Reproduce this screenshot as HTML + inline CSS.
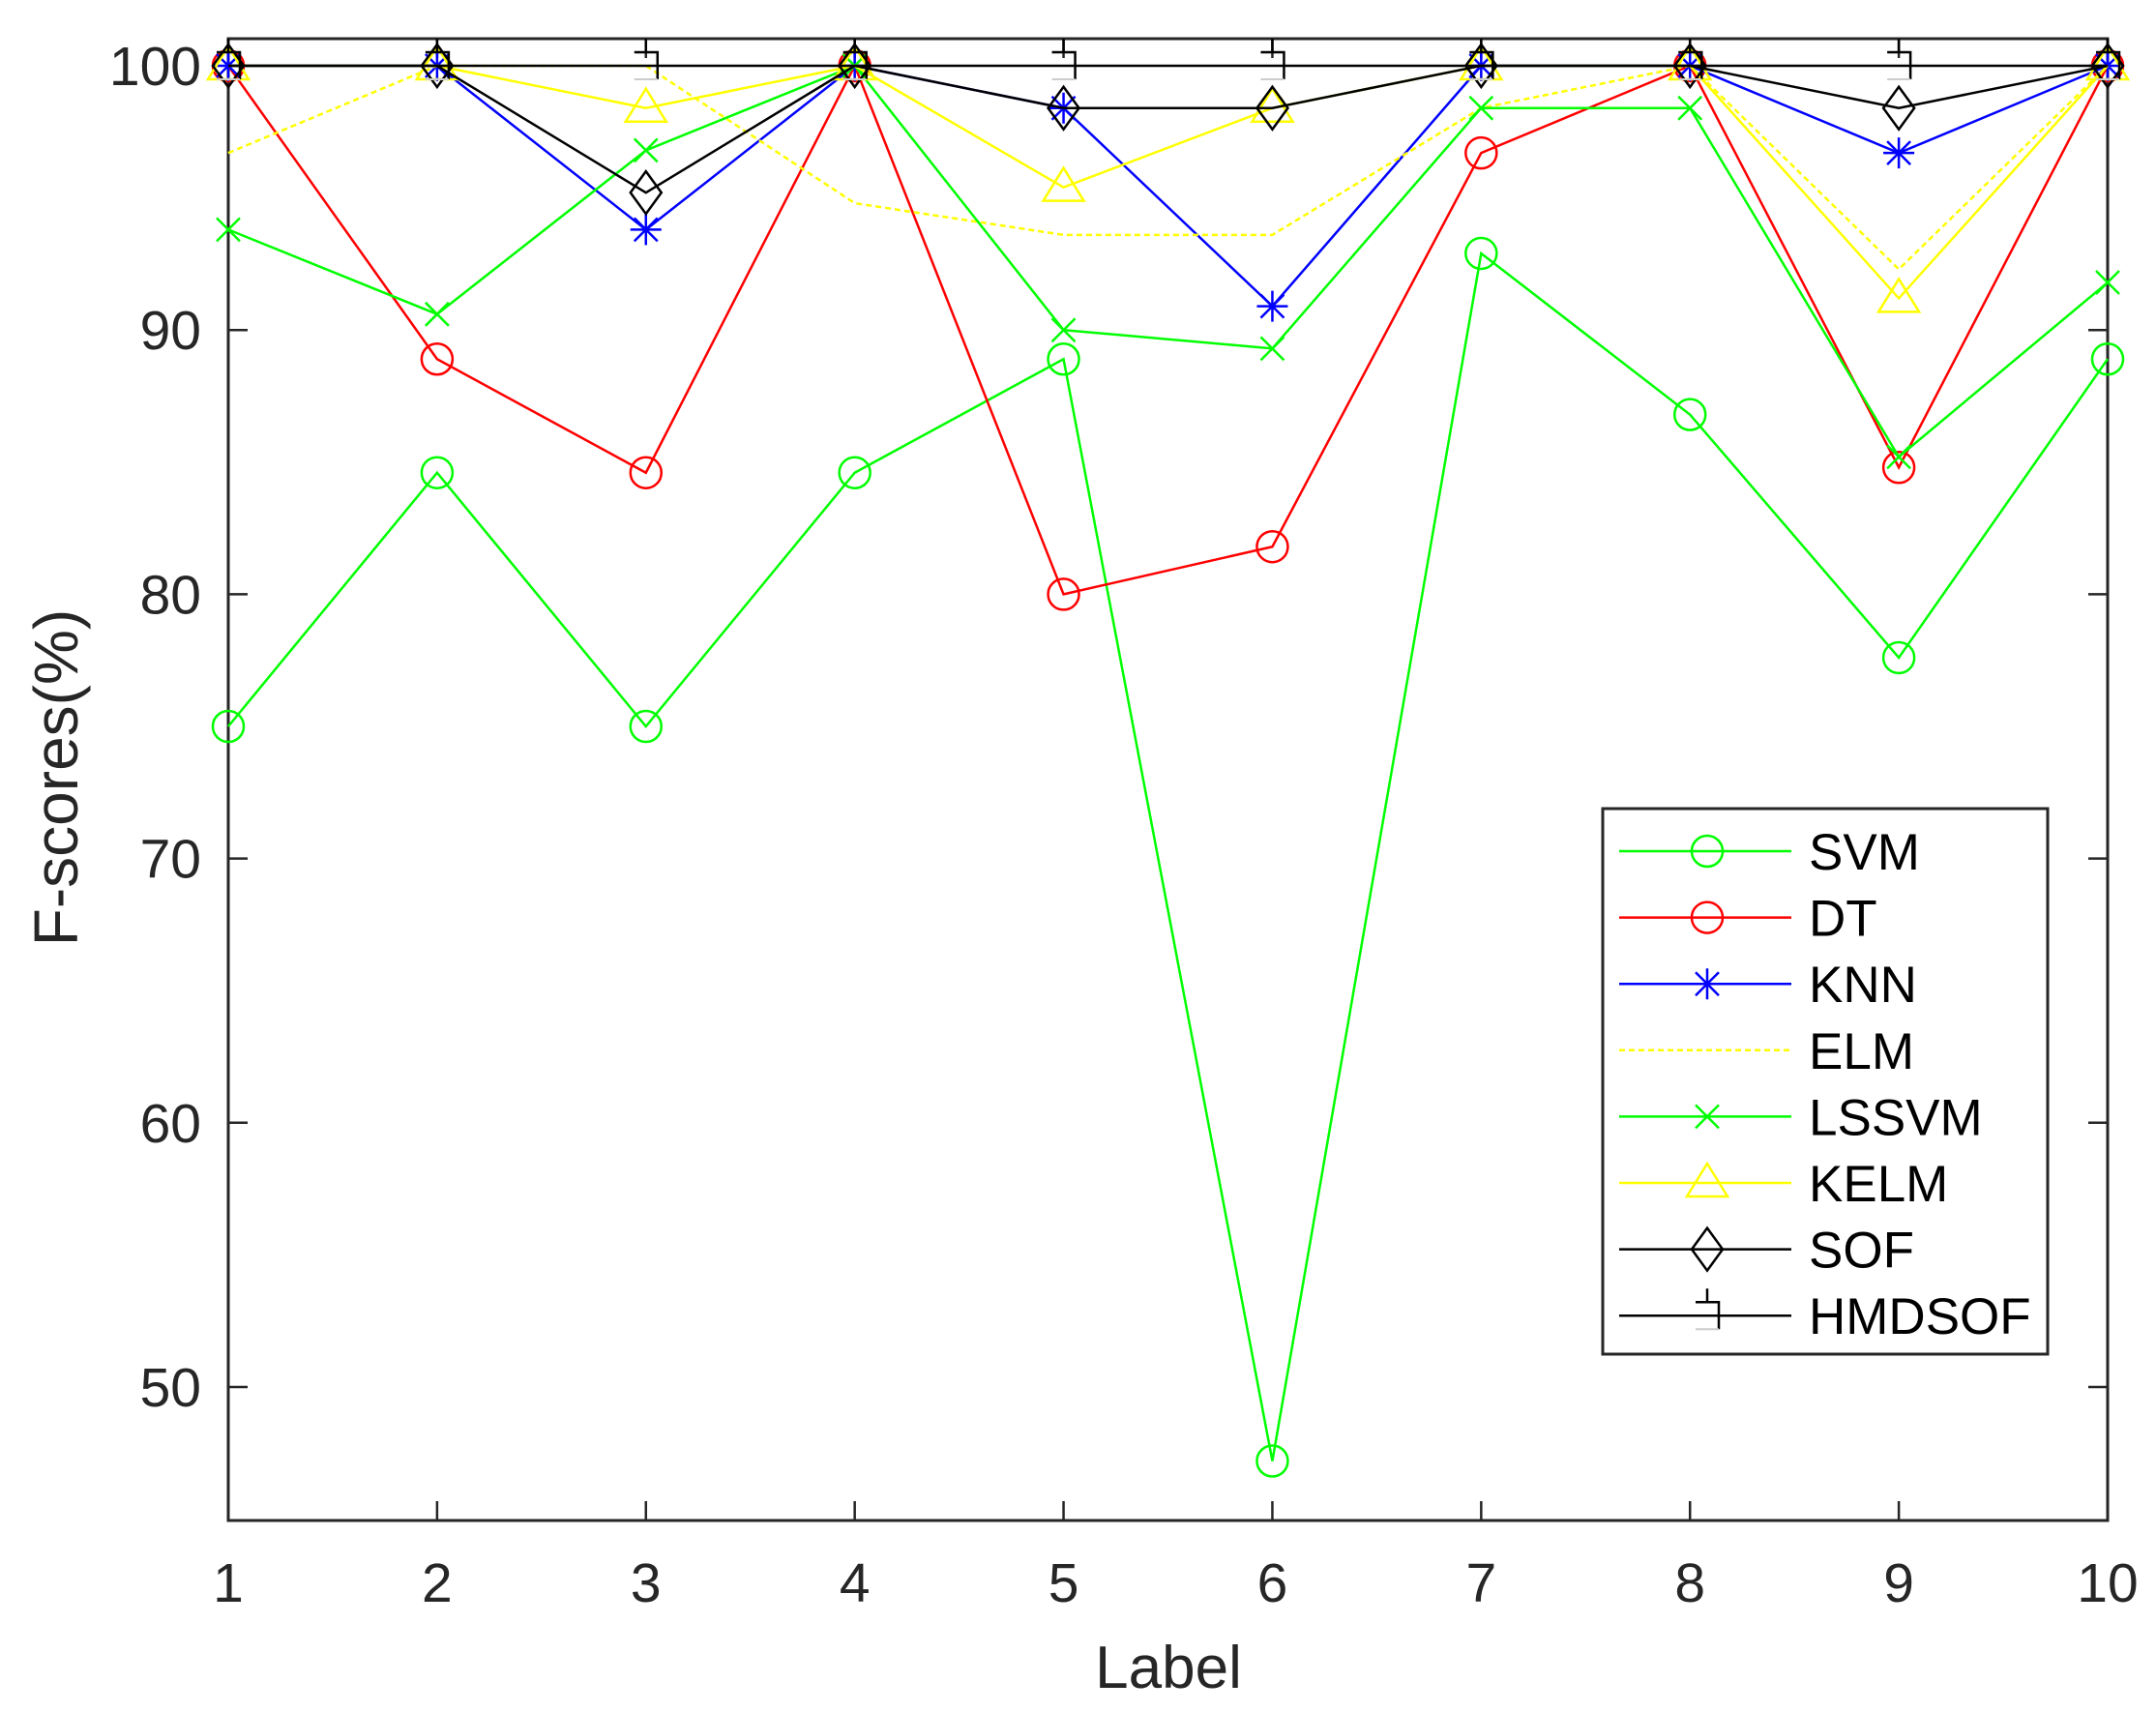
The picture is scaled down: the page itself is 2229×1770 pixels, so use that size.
<!DOCTYPE html>
<html><head><meta charset="utf-8"><style>html,body{margin:0;padding:0;background:#fff}svg{display:block}</style></head>
<body>
<svg id="s" xmlns="http://www.w3.org/2000/svg" width="2229" height="1770" viewBox="0 0 2229 1770" font-family="Liberation Sans, Arial, sans-serif"></svg>
<script>
const s=document.getElementById('s');
const X0=236,X1=2179,Y100=68,U=27.32,TOP=40,BOT=1572;
const px=i=>X0+(i-1)*(X1-X0)/9, py=v=>Y100+(100-v)*U;
let h='';
h+=`<rect x="${X0}" y="${TOP}" width="${X1-X0}" height="${BOT-TOP}" fill="none" stroke="#262626" stroke-width="3"/>`;
for(let v=50;v<=100;v+=10){const y=py(v);h+=`<line x1="${X0}" y1="${y}" x2="${X0+20}" y2="${y}" stroke="#262626" stroke-width="2.5"/><line x1="${X1}" y1="${y}" x2="${X1-20}" y2="${y}" stroke="#262626" stroke-width="2.5"/><text x="208" y="${y+20}" font-size="57" text-anchor="end" fill="#262626">${v}</text>`;}
for(let i=1;i<=10;i++){const x=px(i);h+=`<line x1="${x}" y1="${BOT}" x2="${x}" y2="${BOT-20}" stroke="#262626" stroke-width="2.5"/><line x1="${x}" y1="${TOP}" x2="${x}" y2="${TOP+20}" stroke="#262626" stroke-width="2.5"/><text x="${x}" y="1656" font-size="57" text-anchor="middle" fill="#262626">${i}</text>`;}
h+=`<text x="1208" y="1745" font-size="62" text-anchor="middle" fill="#262626">Label</text>`;
h+=`<text transform="translate(80,804) rotate(-90)" font-size="64" text-anchor="middle" fill="#262626">F-scores(%)</text>`;
const S=[
 ['#00ff00','o',[75,84.6,75,84.6,88.9,47.2,92.9,86.8,77.6,88.9],''],
 ['#ff0000','o',[100,88.9,84.6,100,80,81.8,96.7,100,84.8,100],''],
 ['#0000ff','*',[100,100,93.8,100,98.4,90.9,100,100,96.7,100],''],
 ['#ffff00','',[96.7,100,100,94.8,93.6,93.6,98.4,100,92.3,100],'6,4'],
 ['#00ff00','x',[93.8,90.6,96.8,100,90,89.3,98.4,98.4,85.2,91.8],''],
 ['#ffff00','^',[100,100,98.4,100,95.4,98.4,100,100,91.2,100],''],
 ['#000000','d',[100,100,95.2,100,98.4,98.4,100,100,98.4,100],''],
 ['#000000','b',[100,100,100,100,100,100,100,100,100,100],'']
];
function mk(t,x,y,c){
 if(t=='o')return `<circle cx="${x}" cy="${y}" r="16" fill="none" stroke="${c}" stroke-width="2.5"/>`;
 if(t=='*')return `<path d="M${x-16} ${y}h32M${x} ${y-16}v32M${x-12} ${y-12}l24 24M${x-12} ${y+12}l24 -24" stroke="${c}" stroke-width="2.5"/>`;
 if(t=='x')return `<path d="M${x-12} ${y-12}l24 24M${x-12} ${y+12}l24 -24" stroke="${c}" stroke-width="2.5"/>`;
 if(t=='^')return `<path d="M${x} ${y-20}L${x+21} ${y+14}H${x-21}Z" fill="none" stroke="${c}" stroke-width="2.5"/>`;
 if(t=='d')return `<path d="M${x} ${y-22}L${x+16} ${y}L${x} ${y+22}L${x-16} ${y}Z" fill="none" stroke="${c}" stroke-width="2.5"/>`;
 if(t=='b')return `<path d="M${x-12} ${y-14}H${x+12}V${y+14}M${x} ${y-28}V${y-14}" fill="none" stroke="${c}" stroke-width="2.5"/><line x1="${x-12}" y1="${y+14}" x2="${x+12}" y2="${y+14}" stroke="#ccc" stroke-width="2"/>`;
 return '';
}
for(const [c,m,d,da] of S){
 h+=`<polyline points="${d.map((v,i)=>px(i+1)+','+py(v)).join(' ')}" fill="none" stroke="${c}" stroke-width="2.5" ${da?`stroke-dasharray="${da}"`:''}/>`;
 d.forEach((v,i)=>h+=mk(m,px(i+1),py(v),c));
}
h+=`<rect x="1657" y="836" width="460" height="564" fill="#fff" stroke="#262626" stroke-width="3"/>`;
const names=['SVM','DT','KNN','ELM','LSSVM','KELM','SOF','HMDSOF'];
S.forEach(([c,m,d,da],k)=>{const y=880+k*68.6;
 h+=`<line x1="1674" y1="${y}" x2="1852" y2="${y}" stroke="${c}" stroke-width="2.5" ${da?`stroke-dasharray="${da}"`:''}/>`+mk(m,1765,y,c)+`<text x="1870" y="${y+19}" font-size="53" fill="#000">${names[k]}</text>`;});
s.innerHTML=h;
</script>
</body></html>
